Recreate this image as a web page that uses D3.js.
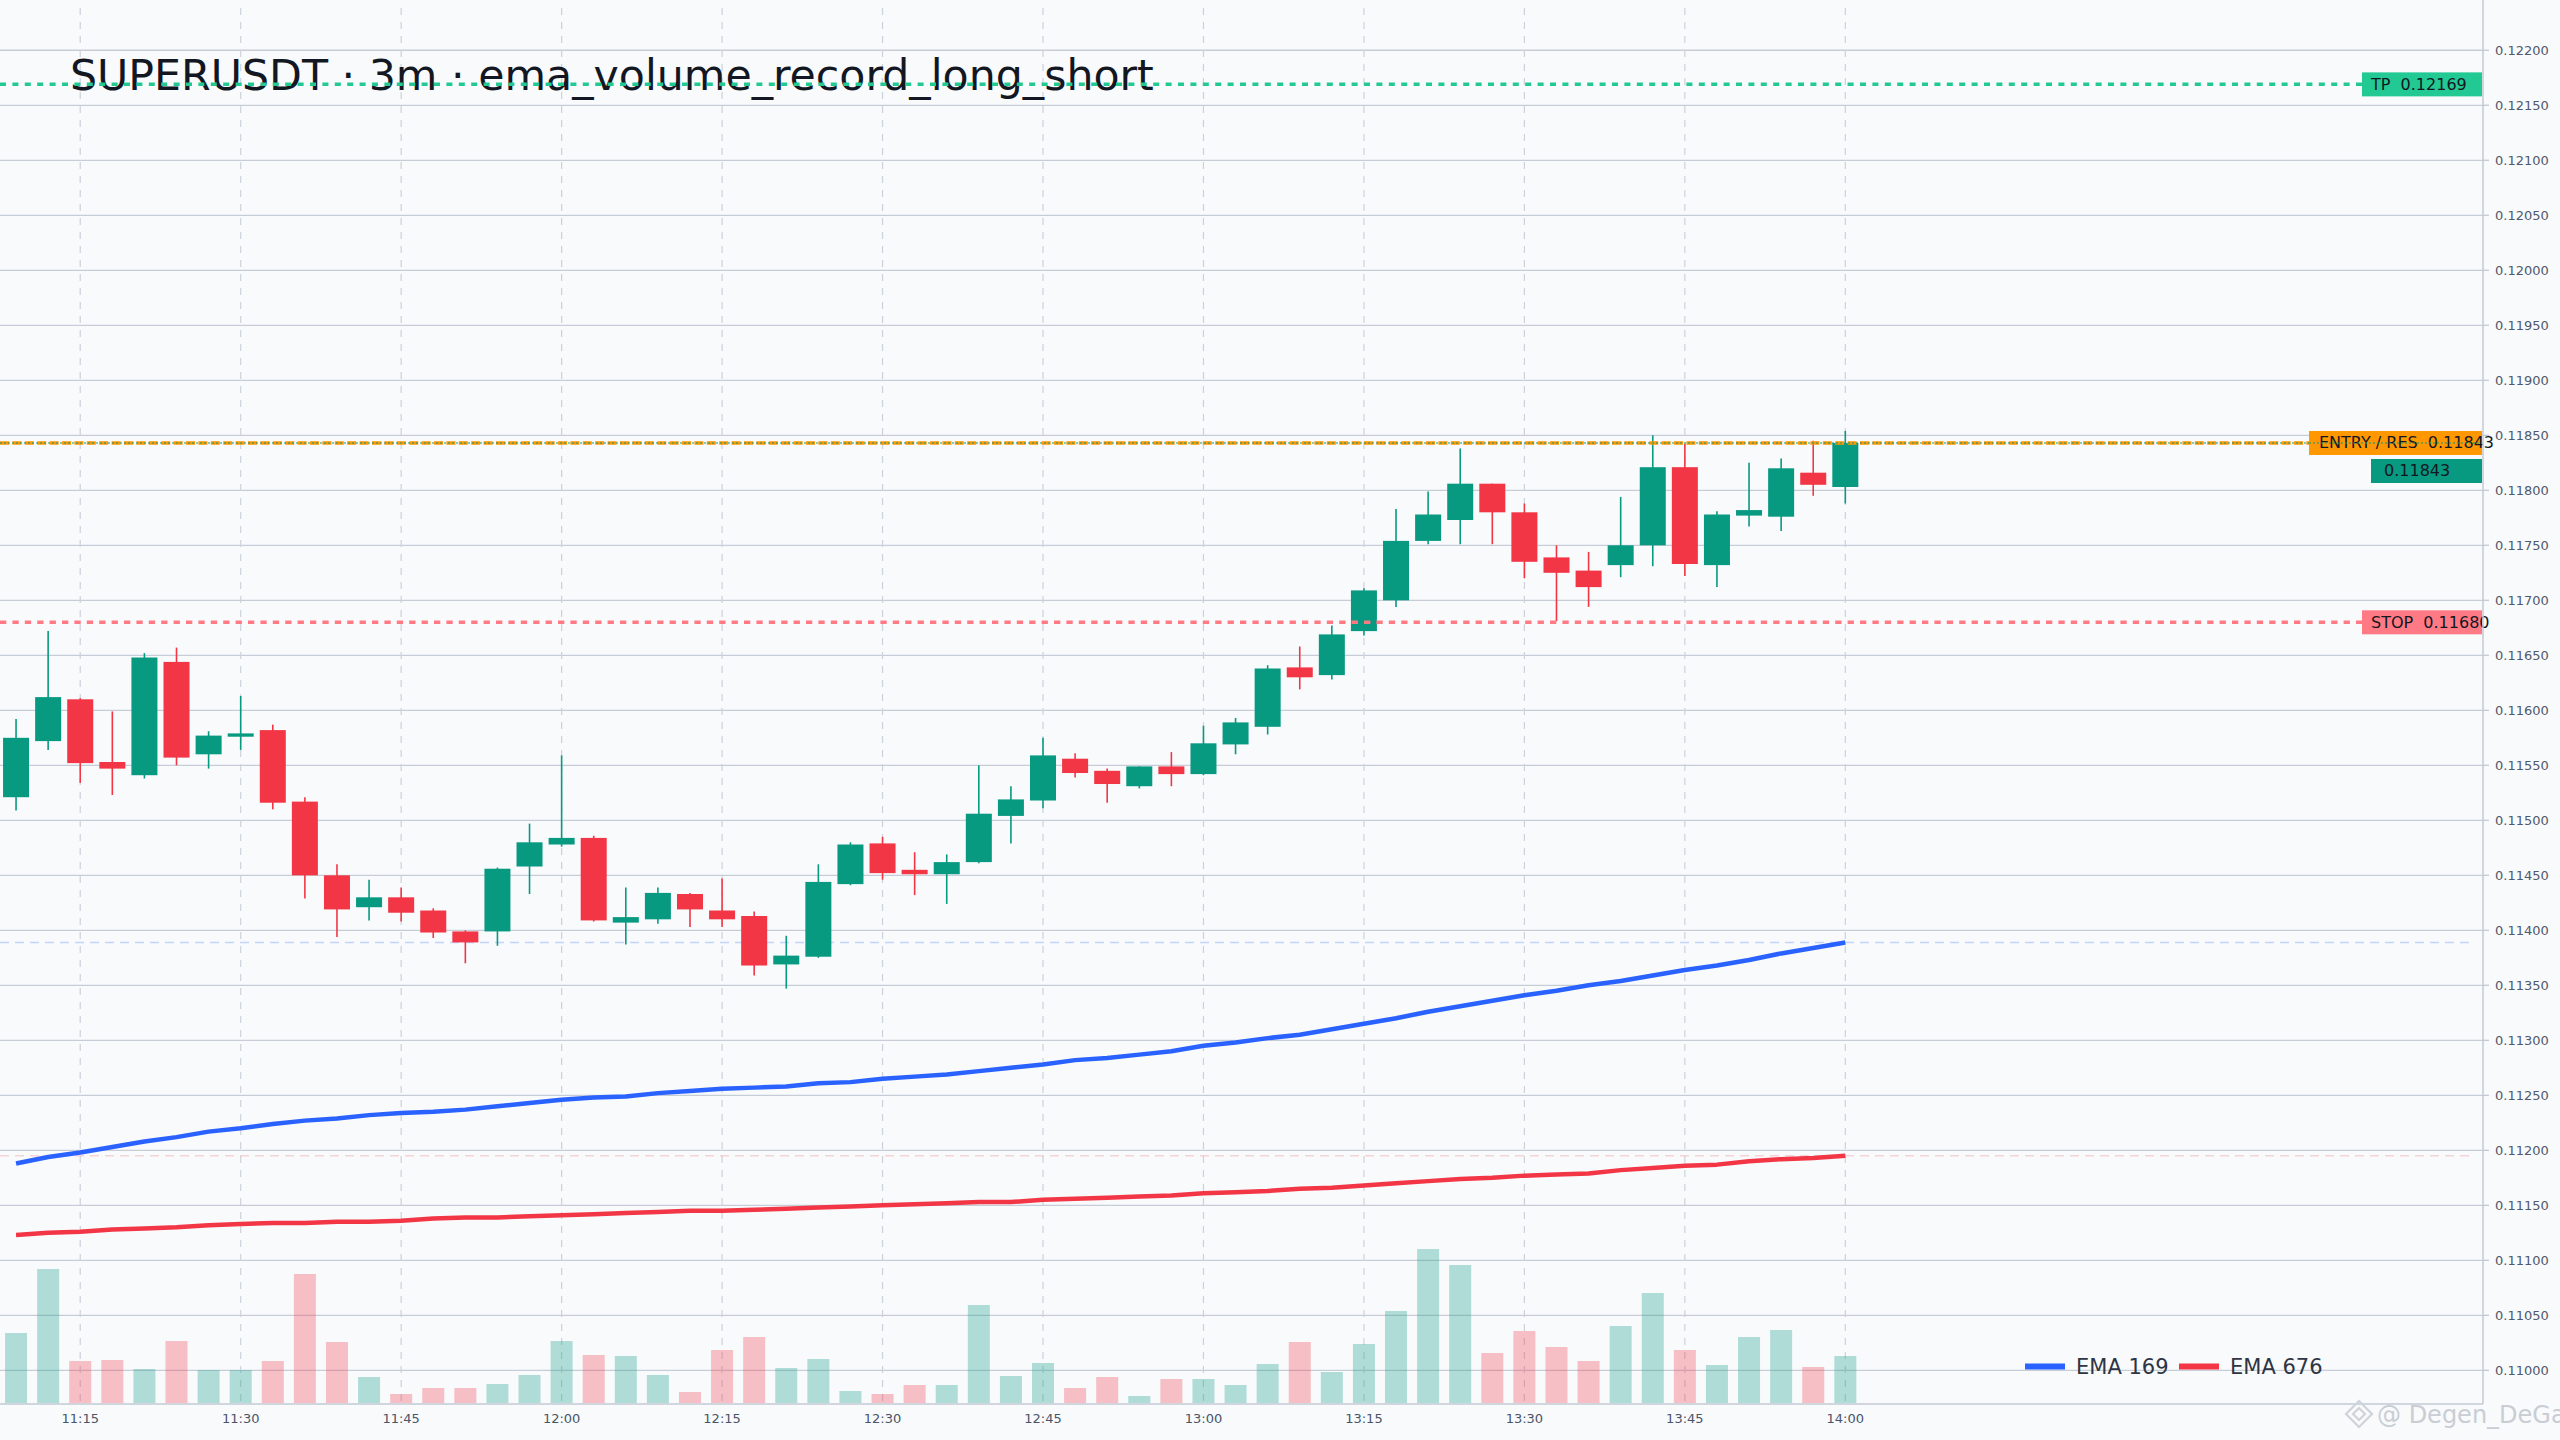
<!DOCTYPE html>
<html>
<head>
<meta charset="utf-8">
<script src="https://cdn.jsdelivr.net/npm/d3@7/dist/d3.min.js"></script>
<style>
  html, body { margin: 0; padding: 0; background: #f8fafc; }
  svg { display: block; }
</style>
</head>
<body>
<svg id="chart" width="2560" height="1440"></svg>
<script>
// ---------------- DATA ----------------
const times = ["11:09","11:12","11:15","11:18","11:21","11:24","11:27","11:30","11:33","11:36",
  "11:39","11:42","11:45","11:48","11:51","11:54","11:57","12:00","12:03","12:06",
  "12:09","12:12","12:15","12:18","12:21","12:24","12:27","12:30","12:33","12:36",
  "12:39","12:42","12:45","12:48","12:51","12:54","12:57","13:00","13:03","13:06",
  "13:09","13:12","13:15","13:18","13:21","13:24","13:27","13:30","13:33","13:36",
  "13:39","13:42","13:45","13:48","13:51","13:54","13:57","14:00"];

const open  = [0.11521,0.11572,0.11610,0.11553,0.11541,0.11644,0.11560,0.11576,0.11582,0.11517,
  0.11450,0.11421,0.11430,0.11418,0.11399,0.11399,0.11458,0.11478,0.11484,0.11407,
  0.11410,0.11433,0.11418,0.11413,0.11369,0.11376,0.11442,0.11479,0.11455,0.11451,
  0.11462,0.11504,0.11518,0.11556,0.11545,0.11531,0.11549,0.11542,0.11569,0.11585,
  0.11639,0.11632,0.11672,0.11700,0.11754,0.11773,0.11806,0.11780,0.11739,0.11727,
  0.11732,0.11750,0.11821,0.11732,0.11777,0.11776,0.11816,0.11803];
const high  = [0.11592,0.11672,0.11611,0.11599,0.11652,0.11657,0.11581,0.11613,0.11587,0.11521,
  0.11460,0.11446,0.11439,0.11420,0.11400,0.11457,0.11497,0.11559,0.11486,0.11439,
  0.11439,0.11434,0.11447,0.11417,0.11395,0.11460,0.11480,0.11485,0.11471,0.11469,
  0.11550,0.11531,0.11575,0.11561,0.11547,0.11549,0.11562,0.11586,0.11593,0.11641,
  0.11658,0.11677,0.11711,0.11783,0.11799,0.11838,0.11806,0.11788,0.11750,0.11744,
  0.11794,0.11850,0.11842,0.11781,0.11825,0.11829,0.11845,0.11854];
const low   = [0.11509,0.11564,0.11534,0.11523,0.11538,0.11550,0.11547,0.11564,0.11510,0.11429,
  0.11394,0.11409,0.11408,0.11393,0.11370,0.11386,0.11433,0.11476,0.11408,0.11387,
  0.11406,0.11403,0.11403,0.11359,0.11347,0.11375,0.11441,0.11446,0.11432,0.11424,
  0.11461,0.11479,0.11511,0.11539,0.11516,0.11529,0.11531,0.11541,0.11560,0.11578,
  0.11619,0.11628,0.11668,0.11694,0.11751,0.11751,0.11751,0.11720,0.11681,0.11694,
  0.11721,0.11731,0.11722,0.11712,0.11767,0.11763,0.11795,0.11788];
const close = [0.11575,0.11612,0.11552,0.11547,0.11648,0.11557,0.11577,0.11579,0.11516,0.11450,
  0.11419,0.11430,0.11416,0.11398,0.11389,0.11456,0.11480,0.11484,0.11409,0.11412,
  0.11434,0.11419,0.11410,0.11368,0.11377,0.11444,0.11478,0.11452,0.11451,0.11462,
  0.11506,0.11519,0.11559,0.11543,0.11533,0.11549,0.11542,0.11570,0.11589,0.11638,
  0.11630,0.11669,0.11709,0.11754,0.11778,0.11806,0.11780,0.11735,0.11725,0.11712,
  0.11750,0.11821,0.11733,0.11778,0.11782,0.11820,0.11805,0.11843];
// volume (thousands)
const volume = [70,134,42,43,34,62,33,33,42,129,
  61,26,9,15,15,19,28,62,48,47,
  28,11,53,66,35,44,12,9,18,18,
  98,27,40,15,26,7,24,24,18,39,
  61,31,59,92,154,138,50,72,56,42,
  77,110,53,38,66,73,36,47];
const ema169 = [0.11188,0.11194,0.11198,0.11203,0.11208,0.11212,0.11217,0.11220,0.11224,0.11227,
  0.11229,0.11232,0.11234,0.11235,0.11237,0.11240,0.11243,0.11246,0.11248,0.11249,
  0.11252,0.11254,0.11256,0.11257,0.11258,0.11261,0.11262,0.11265,0.11267,0.11269,
  0.11272,0.11275,0.11278,0.11282,0.11284,0.11287,0.11290,0.11295,0.11298,0.11302,
  0.11305,0.11310,0.11315,0.11320,0.11326,0.11331,0.11336,0.11341,0.11345,0.11350,
  0.11354,0.11359,0.11364,0.11368,0.11373,0.11379,0.11384,0.11389];
const ema676 = [0.11123,0.11125,0.11126,0.11128,0.11129,0.11130,0.11132,0.11133,0.11134,0.11134,
  0.11135,0.11135,0.11136,0.11138,0.11139,0.11139,0.11140,0.11141,0.11142,0.11143,
  0.11144,0.11145,0.11145,0.11146,0.11147,0.11148,0.11149,0.11150,0.11151,0.11152,
  0.11153,0.11153,0.11155,0.11156,0.11157,0.11158,0.11159,0.11161,0.11162,0.11163,
  0.11165,0.11166,0.11168,0.11170,0.11172,0.11174,0.11175,0.11177,0.11178,0.11179,
  0.11182,0.11184,0.11186,0.11187,0.11190,0.11192,0.11193,0.11195];

const priceTicks = [0.11000,0.11050,0.11100,0.11150,0.11200,0.11250,0.11300,0.11350,0.11400,
  0.11450,0.11500,0.11550,0.11600,0.11650,0.11700,0.11750,0.11800,0.11850,0.11900,
  0.11950,0.12000,0.12050,0.12100,0.12150,0.12200];
const timeTickLabels = ["11:15","11:30","11:45","12:00","12:15","12:30","12:45","13:00","13:15","13:30","13:45","14:00"];

const levelNames  = ["TP", "ENTRY / RES", "STOP"];
const levelPrices = [0.12169, 0.11843, 0.11680];
const lastPrice = 0.11843;
const titleText = "SUPERUSDT · 3m · ema_volume_record_long_short";
const legendNames = ["EMA 169", "EMA 676"];
const watermark = "@ Degen_DeGa";

// ---------------- LAYOUT ----------------
const W = 2560, H = 1440;
const plotRight = 2483, plotBottom = 1404;
const FONT = "DejaVu Sans, Verdana, sans-serif";
const UP = "#089981", DOWN = "#f23645";

const svg = d3.select("#chart");
const x = d3.scaleLinear().domain([-0.5, 76.87]).range([0, plotRight]);
const y = d3.scaleLinear().domain([0.109694, 0.122457]).range([plotBottom, 0]);
const yVol = d3.scaleLinear().domain([0, d3.max(volume)]).range([plotBottom - 1, plotBottom - 155]);

const candles = times.map((t, i) => ({ t, i, o: open[i], h: high[i], l: low[i], c: close[i], v: volume[i] }));

svg.append("rect").attr("width", W).attr("height", H).attr("fill", "#f8fafc");

// horizontal grid
svg.append("g").selectAll("line").data(priceTicks).join("line")
  .attr("x1", 0).attr("x2", plotRight)
  .attr("y1", d => y(d)).attr("y2", d => y(d))
  .attr("stroke", "#c7cdd7").attr("stroke-width", 1.3);

// vertical dashed grid
const tickIdx = timeTickLabels.map(s => times.indexOf(s));
svg.append("g").selectAll("line").data(tickIdx).join("line")
  .attr("x1", d => x(d)).attr("x2", d => x(d))
  .attr("y1", 8).attr("y2", plotBottom)
  .attr("stroke", "#ccd2db").attr("stroke-width", 1.2)
  .attr("stroke-dasharray", "7,7");

// volume bars
svg.append("g").selectAll("rect").data(candles).join("rect")
  .attr("x", d => x(d.i) - 11).attr("width", 22)
  .attr("y", d => yVol(d.v)).attr("height", d => yVol(0) - yVol(d.v))
  .attr("fill", d => d.c >= d.o ? UP : DOWN).attr("fill-opacity", 0.3);

// EMA last value dashed levels
svg.append("line").attr("x1", 0).attr("x2", plotRight - 8)
  .attr("y1", y(ema169[ema169.length - 1])).attr("y2", y(ema169[ema169.length - 1]))
  .attr("stroke", "#2962ff").attr("stroke-opacity", 0.25).attr("stroke-width", 1.5).attr("stroke-dasharray", "9,6");
svg.append("line").attr("x1", 0).attr("x2", plotRight - 8)
  .attr("y1", y(ema676[ema676.length - 1])).attr("y2", y(ema676[ema676.length - 1]))
  .attr("stroke", "#f23645").attr("stroke-opacity", 0.2).attr("stroke-width", 1.5).attr("stroke-dasharray", "9,6");

// EMA lines
const line = d3.line().x((d, i) => x(i)).y(d => y(d));
svg.append("path").datum(ema169).attr("d", line).attr("fill", "none")
  .attr("stroke", "#2962ff").attr("stroke-width", 4.5).attr("stroke-linejoin", "round");
svg.append("path").datum(ema676).attr("d", line).attr("fill", "none")
  .attr("stroke", "#f23645").attr("stroke-width", 4.5).attr("stroke-linejoin", "round");

// candles
const cg = svg.append("g");
cg.selectAll("line").data(candles).join("line")
  .attr("x1", d => x(d.i)).attr("x2", d => x(d.i))
  .attr("y1", d => y(d.h)).attr("y2", d => y(d.l))
  .attr("stroke", d => d.c >= d.o ? UP : DOWN).attr("stroke-width", 1.6);
cg.selectAll("rect").data(candles).join("rect")
  .attr("x", d => x(d.i) - 13).attr("width", 26)
  .attr("y", d => y(Math.max(d.o, d.c)))
  .attr("height", d => Math.max(1.5, Math.abs(y(d.o) - y(d.c))))
  .attr("fill", d => d.c >= d.o ? UP : DOWN);

// title
svg.append("text").attr("x", 70).attr("y", 90)
  .attr("font-family", FONT).attr("font-size", 42.7).attr("fill", "#131722")
  .text(titleText);

// levels
const levelColors = ["#22c993", "#ff9800", "#ff7a85"];
const levelDash = ["6,6.4", "9,3.4", "6.3,6.1"];
const boxLeft = [2362, 2309, 2362];
levelPrices.forEach((p, k) => {
  svg.append("line").attr("x1", 0).attr("x2", boxLeft[k])
    .attr("y1", y(p)).attr("y2", y(p))
    .attr("stroke", levelColors[k]).attr("stroke-width", 3.5)
    .attr("stroke-dasharray", levelDash[k]);
});
// last price line
svg.append("line").attr("x1", 0).attr("x2", plotRight)
  .attr("y1", y(lastPrice)).attr("y2", y(lastPrice))
  .attr("stroke", UP).attr("stroke-width", 1.2).attr("stroke-dasharray", "2,2");

// level label boxes
levelPrices.forEach((p, k) => {
  const g = svg.append("g");
  g.append("rect").attr("x", boxLeft[k]).attr("y", y(p) - 12)
    .attr("width", plotRight - 1 - boxLeft[k]).attr("height", 24)
    .attr("fill", levelColors[k]);
  g.append("text").attr("x", boxLeft[k] + (k === 1 ? 10 : 9)).attr("y", y(p) + 5.5)
    .attr("font-family", FONT).attr("font-size", 16).attr("fill", "#131722")
    .attr("xml:space", "preserve")
    .text(levelNames[k] + "  " + p.toFixed(5));
});
// redraw last-price line over the entry box
svg.append("line").attr("x1", boxLeft[1]).attr("x2", plotRight)
  .attr("y1", y(lastPrice)).attr("y2", y(lastPrice))
  .attr("stroke", UP).attr("stroke-width", 1.2).attr("stroke-dasharray", "2,2");
// last price box
svg.append("rect").attr("x", 2371).attr("y", y(lastPrice) + 16)
  .attr("width", plotRight - 1 - 2371).attr("height", 24).attr("fill", UP);
svg.append("text").attr("x", 2384).attr("y", y(lastPrice) + 33.5)
  .attr("font-family", FONT).attr("font-size", 16).attr("fill", "#131722")
  .text(lastPrice.toFixed(5));

// axes lines
svg.append("line").attr("x1", plotRight).attr("x2", plotRight).attr("y1", 0).attr("y2", plotBottom)
  .attr("stroke", "#c3c9d4").attr("stroke-width", 1.5);
svg.append("line").attr("x1", 0).attr("x2", plotRight).attr("y1", plotBottom).attr("y2", plotBottom)
  .attr("stroke", "#c3c9d4").attr("stroke-width", 1.5);

// price axis
const yAxis = svg.append("g");
yAxis.selectAll("line").data(priceTicks).join("line")
  .attr("x1", plotRight).attr("x2", plotRight + 6)
  .attr("y1", d => y(d)).attr("y2", d => y(d))
  .attr("stroke", "#c3c9d4").attr("stroke-width", 1.3);
yAxis.selectAll("text").data(priceTicks).join("text")
  .attr("x", plotRight + 12).attr("y", d => y(d) + 4.5)
  .attr("font-family", FONT).attr("font-size", 13).attr("fill", "#50596b")
  .text(d => d.toFixed(5));

// time axis
svg.append("g").selectAll("text").data(timeTickLabels).join("text")
  .attr("x", d => x(times.indexOf(d))).attr("y", 1423)
  .attr("text-anchor", "middle")
  .attr("font-family", FONT).attr("font-size", 13).attr("fill", "#4a5468")
  .text(d => d);

// legend
const legColors = ["#2962ff", "#f23645"];
const legX = [2025, 2179];
legendNames.forEach((n, k) => {
  svg.append("line").attr("x1", legX[k]).attr("x2", legX[k] + 40)
    .attr("y1", 1366.5).attr("y2", 1366.5)
    .attr("stroke", legColors[k]).attr("stroke-width", 6);
  svg.append("text").attr("x", legX[k] + 51).attr("y", 1374)
    .attr("font-family", FONT).attr("font-size", 21).attr("fill", "#2f3542")
    .text(n);
});

// watermark
const wm = svg.append("g").attr("fill", "none").attr("stroke", "#cfd3da").attr("stroke-width", 2.2);
const cx = 2359, cy = 1414;
wm.append("path").attr("d", `M${cx},${cy-13} L${cx+13},${cy} L${cx},${cy+13} L${cx-13},${cy} Z`);
wm.append("path").attr("d", `M${cx},${cy-6} L${cx+6},${cy} L${cx},${cy+6} L${cx-6},${cy} Z`);
svg.append("text").attr("x", 2377).attr("y", 1423)
  .attr("font-family", FONT).attr("font-size", 24).attr("fill", "#c9cdd4")
  .text(watermark);
</script>
</body>
</html>
